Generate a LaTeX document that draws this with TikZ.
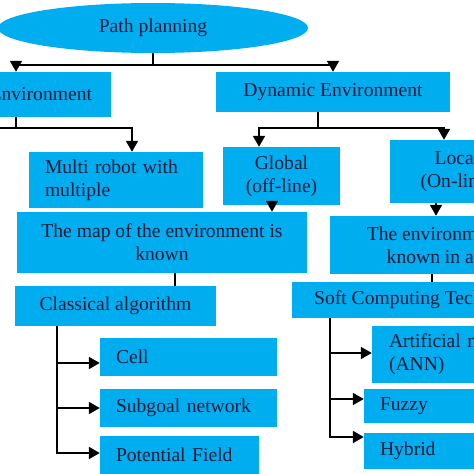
\documentclass[tikz,border=0pt]{standalone}
\usepackage{fontspec}
\setmainfont{Liberation Serif}
\usetikzlibrary{shapes.geometric,arrows.meta}
\definecolor{boxblue}{RGB}{0,174,239}
\definecolor{txt}{RGB}{25,25,60}
\begin{document}
\begin{tikzpicture}[x=1pt,y=-1pt,
  box/.style={fill=boxblue,draw=none,text=txt,font=\fontsize{19.6pt}{23pt}\selectfont,inner sep=0pt,align=center},
  ln/.style={line width=1.8pt,draw=black},
  arr/.style={ln,-{Triangle[length=11pt,width=12pt]}}]
\clip (0,0) rectangle (474,474);
% nodes
\node[box,ellipse,minimum width=310pt,minimum height=50pt] (ell) at (153,28) {Path planning};
\node[box,minimum width=190pt,minimum height=45pt,text width=152pt,align=right] (env) at (16,94.5) {Environment};
\node[box,minimum width=234pt,minimum height=40pt] (dyn) at (333,92) {Dynamic Environment};
\node[box,align=left,text width=142pt,minimum width=174pt,minimum height=56pt] (multi) at (116,180) {Multi robot with\\multiple};
\node[box,minimum width=117pt,minimum height=58pt] (glob) at (281.5,176) {Global\\(off-line)};
\node[box,minimum width=134pt,minimum height=63pt] (loc) at (457,171.5) {Local\\(On-line)};
\node[box,minimum width=290pt,minimum height=61pt] (map) at (162,242.5) {The map of the environment is\\known};
\node[box,minimum width=256pt,minimum height=58pt] (rmap) at (458,245) {The environment is not\\known in advance};
\node[box,minimum width=201pt,minimum height=40pt] (cls) at (115.5,306) {Classical algorithm};
\node[box,minimum width=264pt,minimum height=36pt] (soft) at (424,300) {Soft Computing Techniques};
\node[box,align=left,text width=145pt,minimum width=177pt,minimum height=38pt] (cell) at (188.5,357) {Cell};
\node[box,align=left,text width=145pt,minimum width=177pt,minimum height=38pt] (sub) at (188.5,408) {Subgoal network};
\node[box,align=left,text width=127pt,minimum width=159pt,minimum height=38pt] (pot) at (179.5,455) {Potential Field};
\node[box,align=left,text width=206pt,minimum width=240pt,minimum height=57pt] (ann) at (492,354.5) {Artificial neural network\\(ANN)};
\node[box,align=left,text width=208pt,minimum width=240pt,minimum height=34pt] (fuz) at (484,406) {Fuzzy};
\node[box,align=left,text width=208pt,minimum width=240pt,minimum height=36pt] (hyb) at (484,451) {Hybrid};
% connectors
\coordinate (j1) at (153,65);
\draw[ln] (ell.south) -- (j1);
\draw[arr] (j1) -| (env.north);
\draw[arr] (j1) -| (dyn.north);
\coordinate (j2) at (16,128);
\coordinate (offl) at (-10,128);
\draw[ln] (env.south) -- (j2) -- (offl);
\draw[arr] (j2) -| ([xshift=16pt]multi.north);
\coordinate (j3) at (318,128);
\draw[ln] ([xshift=-15pt]dyn.south) -- (j3);
\draw[arr] (j3) -| ([xshift=-22.5pt]glob.north);
\draw[arr] (j3) -| ([xshift=-13pt]loc.north);
\draw[arr] ([xshift=-9.5pt]glob.south) -- ([xshift=110pt]map.north);
\draw[arr] ([xshift=-21pt]loc.south) -- ([xshift=-22pt]rmap.north);
\draw[ln] ([xshift=13pt]map.south) -- ([xshift=59.5pt]cls.north);
\draw[ln] ([xshift=-26pt]rmap.south) -- ([xshift=8pt]soft.north);
\draw[arr] ([xshift=-58.5pt]cls.south) |- ([yshift=-6pt]cell.west);
\draw[arr] ([xshift=-58.5pt]cls.south) |- (sub.west);
\draw[arr] ([xshift=-58.5pt]cls.south) |- ([yshift=2pt]pot.west);
\draw[arr] ([xshift=-94pt]soft.south) |- ([yshift=1.5pt]ann.west);
\draw[arr] ([xshift=-94pt]soft.south) |- ([yshift=7pt]fuz.west);
\draw[arr] ([xshift=-94pt]soft.south) |- ([yshift=14pt]hyb.west);
\end{tikzpicture}
\end{document}
